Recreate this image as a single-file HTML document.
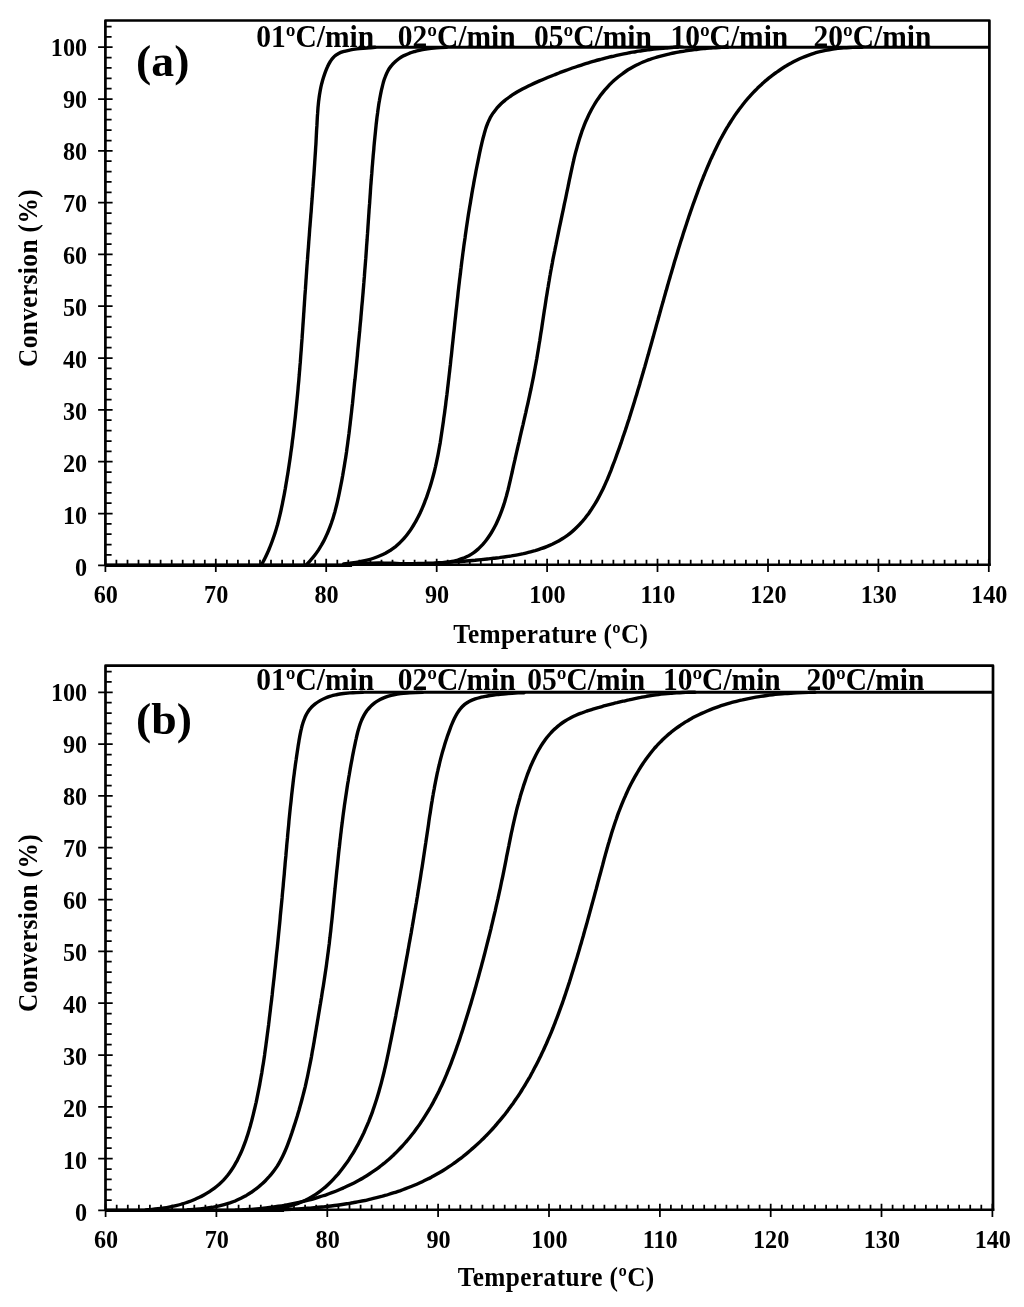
<!DOCTYPE html>
<html lang="en"><head><meta charset="utf-8"><title>Conversion vs Temperature</title>
<style>
html,body{margin:0;padding:0;background:#fff;}
body{width:1024px;height:1307px;overflow:hidden;}
svg{display:block;}
text{font-family:"Liberation Serif","Times New Roman",Times,serif;font-weight:bold;fill:#000;}
.tk{font-size:24.2px;}
.pl{font-size:45.8px;}
.lg{font-size:29.5px;}
.ax{font-size:25.3px;letter-spacing:0.3px;}
.ax2{font-size:25.3px;letter-spacing:0.42px;}
</style></head><body>
<svg width="1024" height="1307" viewBox="0 0 1024 1307">
<rect width="1024" height="1307" fill="#fff"/>
<g id="chart-a">
<path d="M261.9 564.1C262.3 563.2 263.8 560.5 264.7 558.7C265.6 556.9 266.5 555.0 267.3 553.2C268.2 551.4 269.0 549.5 269.7 547.6C270.5 545.8 271.2 543.9 271.9 542.0C272.6 540.1 273.3 538.2 273.9 536.3C274.6 534.4 275.2 532.5 275.8 530.5C276.4 528.6 276.9 526.7 277.5 524.7C278.0 522.8 278.5 520.8 279.0 518.9C279.5 516.9 280.0 514.9 280.4 513.0C280.9 511.0 281.3 509.0 281.7 507.0C282.2 505.0 282.6 503.1 282.9 501.1C283.3 499.1 283.7 497.1 284.1 495.1C284.5 493.1 284.8 491.1 285.2 489.1C285.5 487.1 285.9 485.1 286.2 483.1C286.6 481.1 286.9 479.1 287.2 477.1C287.6 475.1 287.9 473.1 288.2 471.1C288.5 469.1 288.8 467.1 289.1 465.1C289.4 463.1 289.7 461.1 290.0 459.1C290.3 457.1 290.6 455.1 290.8 453.1C291.1 451.1 291.4 449.1 291.7 447.1C291.9 445.1 292.2 443.1 292.4 441.0C292.7 439.0 293.0 437.0 293.2 435.0C293.4 433.0 293.7 431.0 293.9 429.0C294.2 427.0 294.4 425.0 294.6 422.9C294.8 420.9 295.1 418.9 295.3 416.9C295.5 414.9 295.7 412.9 295.9 410.9C296.1 408.8 296.3 406.8 296.5 404.8C296.7 402.8 296.9 400.8 297.1 398.8C297.3 396.7 297.5 394.7 297.7 392.7C297.9 390.7 298.1 388.7 298.2 386.6C298.4 384.6 298.6 382.6 298.8 380.6C298.9 378.6 299.1 376.6 299.3 374.5C299.4 372.5 299.6 370.5 299.8 368.5C299.9 366.5 300.1 364.4 300.3 362.4C300.4 360.4 300.6 358.4 300.7 356.4C300.9 354.3 301.0 352.3 301.2 350.3C301.3 348.3 301.5 346.2 301.6 344.2C301.8 342.2 301.9 340.2 302.1 338.2C302.2 336.1 302.3 334.1 302.5 332.1C302.6 330.1 302.8 328.1 302.9 326.0C303.0 324.0 303.2 322.0 303.3 320.0C303.5 318.0 303.6 315.9 303.7 313.9C303.9 311.9 304.0 309.9 304.1 307.8C304.3 305.8 304.4 303.8 304.5 301.8C304.7 299.8 304.8 297.7 304.9 295.7C305.1 293.7 305.2 291.7 305.4 289.7C305.5 287.7 305.6 285.6 305.8 283.6C305.9 281.6 306.0 279.6 306.2 277.6C306.3 275.5 306.5 273.5 306.6 271.5C306.7 269.5 306.9 267.5 307.0 265.5C307.2 263.4 307.3 261.4 307.5 259.4C307.6 257.4 307.8 255.4 307.9 253.4C308.1 251.4 308.2 249.3 308.4 247.3C308.5 245.3 308.7 243.3 308.8 241.3C309.0 239.3 309.1 237.3 309.3 235.3C309.4 233.2 309.6 231.2 309.7 229.2C309.9 227.2 310.1 225.2 310.2 223.2C310.4 221.2 310.5 219.1 310.7 217.1C310.8 215.1 311.0 213.1 311.2 211.1C311.3 209.1 311.5 207.1 311.6 205.0C311.8 203.0 311.9 201.0 312.1 199.0C312.2 197.0 312.4 195.0 312.5 193.0C312.7 190.9 312.8 188.9 313.0 186.9C313.1 184.9 313.3 182.9 313.4 180.8C313.6 178.8 313.7 176.8 313.9 174.8C314.0 172.7 314.2 170.7 314.3 168.7C314.4 166.7 314.6 164.6 314.7 162.6C314.8 160.6 315.0 158.6 315.1 156.5C315.2 154.5 315.4 152.5 315.5 150.4C315.6 148.4 315.7 146.4 315.9 144.3C316.0 142.3 316.1 140.2 316.2 138.2C316.3 136.2 316.4 134.1 316.5 132.1C316.6 130.0 316.7 128.0 316.9 125.9C317.0 123.9 317.1 121.8 317.2 119.8C317.3 117.8 317.4 115.7 317.6 113.7C317.7 111.6 317.9 109.6 318.0 107.6C318.2 105.6 318.4 103.5 318.6 101.5C318.9 99.5 319.1 97.5 319.4 95.5C319.7 93.5 320.1 91.6 320.4 89.6C320.8 87.6 321.2 85.7 321.7 83.7C322.2 81.8 322.7 79.9 323.3 78.0C323.9 76.1 324.5 74.2 325.2 72.3C325.9 70.5 326.6 68.6 327.5 66.8C328.3 65.0 329.2 63.2 330.3 61.5C331.3 59.8 332.4 58.2 333.8 56.9C335.2 55.5 336.8 54.4 338.6 53.4C340.3 52.5 342.4 51.9 344.4 51.3C346.4 50.7 348.6 50.3 350.6 49.9C352.7 49.5 354.8 49.2 356.9 48.9C359.0 48.6 361.0 48.4 363.1 48.2C365.1 48.0 367.1 47.8 369.1 47.7C371.1 47.5 374.1 47.4 375.1 47.3" fill="none" stroke="#000" stroke-width="3.4" stroke-linejoin="round" stroke-linecap="round"/>
<path d="M306.8 564.3C307.5 563.5 309.7 561.3 311.0 559.7C312.4 558.2 313.7 556.6 314.9 555.0C316.1 553.4 317.3 551.7 318.4 550.1C319.5 548.4 320.5 546.7 321.5 545.0C322.5 543.2 323.5 541.5 324.4 539.7C325.3 537.9 326.2 536.1 327.0 534.2C327.8 532.4 328.6 530.6 329.3 528.7C330.0 526.8 330.7 524.9 331.4 523.0C332.0 521.1 332.7 519.2 333.3 517.2C333.9 515.3 334.4 513.3 335.0 511.4C335.5 509.4 336.0 507.5 336.5 505.5C337.0 503.5 337.5 501.5 337.9 499.5C338.4 497.5 338.8 495.5 339.2 493.5C339.6 491.5 340.0 489.5 340.4 487.5C340.8 485.5 341.2 483.5 341.6 481.5C342.0 479.5 342.3 477.5 342.7 475.5C343.0 473.5 343.4 471.5 343.7 469.5C344.1 467.5 344.4 465.5 344.7 463.5C345.0 461.5 345.4 459.5 345.7 457.5C346.0 455.5 346.3 453.5 346.6 451.5C346.8 449.5 347.1 447.5 347.4 445.5C347.7 443.5 347.9 441.5 348.2 439.5C348.5 437.5 348.7 435.5 349.0 433.5C349.2 431.5 349.5 429.5 349.7 427.5C350.0 425.5 350.2 423.5 350.4 421.5C350.7 419.5 350.9 417.5 351.1 415.5C351.4 413.5 351.6 411.5 351.8 409.4C352.0 407.4 352.2 405.4 352.5 403.4C352.7 401.4 352.9 399.4 353.1 397.4C353.3 395.4 353.5 393.4 353.7 391.4C353.9 389.4 354.1 387.4 354.3 385.3C354.5 383.3 354.7 381.3 355.0 379.3C355.2 377.3 355.4 375.3 355.6 373.3C355.8 371.3 356.0 369.2 356.2 367.2C356.4 365.2 356.6 363.2 356.8 361.2C357.0 359.2 357.2 357.1 357.4 355.1C357.5 353.1 357.7 351.1 357.9 349.1C358.1 347.1 358.3 345.0 358.5 343.0C358.7 341.0 358.9 339.0 359.1 337.0C359.3 335.0 359.5 332.9 359.7 330.9C359.8 328.9 360.0 326.9 360.2 324.9C360.4 322.8 360.6 320.8 360.8 318.8C360.9 316.8 361.1 314.8 361.3 312.7C361.5 310.7 361.7 308.7 361.8 306.7C362.0 304.7 362.2 302.6 362.4 300.6C362.5 298.6 362.7 296.6 362.9 294.5C363.1 292.5 363.2 290.5 363.4 288.5C363.6 286.5 363.7 284.4 363.9 282.4C364.0 280.4 364.2 278.4 364.4 276.4C364.5 274.3 364.7 272.3 364.8 270.3C365.0 268.3 365.2 266.3 365.3 264.2C365.5 262.2 365.6 260.2 365.8 258.2C365.9 256.2 366.1 254.1 366.2 252.1C366.4 250.1 366.5 248.1 366.6 246.1C366.8 244.0 366.9 242.0 367.1 240.0C367.2 238.0 367.3 236.0 367.5 233.9C367.6 231.9 367.8 229.9 367.9 227.9C368.0 225.9 368.2 223.9 368.3 221.8C368.4 219.8 368.6 217.8 368.7 215.8C368.9 213.8 369.0 211.8 369.1 209.7C369.3 207.7 369.4 205.7 369.6 203.7C369.7 201.7 369.8 199.7 370.0 197.6C370.1 195.6 370.3 193.6 370.4 191.6C370.5 189.6 370.7 187.6 370.8 185.5C371.0 183.5 371.1 181.5 371.3 179.5C371.4 177.5 371.6 175.5 371.8 173.4C371.9 171.4 372.1 169.4 372.2 167.4C372.4 165.4 372.6 163.4 372.7 161.4C372.9 159.3 373.1 157.3 373.2 155.3C373.4 153.3 373.6 151.3 373.8 149.3C373.9 147.2 374.1 145.2 374.3 143.2C374.5 141.2 374.7 139.2 374.9 137.2C375.1 135.2 375.3 133.1 375.5 131.1C375.7 129.1 375.9 127.1 376.1 125.1C376.3 123.1 376.6 121.0 376.8 119.0C377.0 117.0 377.3 115.0 377.6 113.0C377.8 111.0 378.1 108.9 378.4 106.9C378.7 104.9 379.0 102.9 379.4 100.8C379.7 98.8 380.1 96.8 380.5 94.7C380.9 92.7 381.3 90.6 381.8 88.6C382.3 86.6 382.8 84.5 383.3 82.6C383.9 80.6 384.5 78.6 385.3 76.7C386.0 74.9 386.8 73.0 387.7 71.3C388.6 69.6 389.6 67.9 390.8 66.4C391.9 64.9 393.2 63.5 394.6 62.2C395.9 60.9 397.4 59.7 399.0 58.6C400.6 57.5 402.3 56.5 404.0 55.6C405.8 54.8 407.6 54.0 409.5 53.2C411.4 52.5 413.4 51.9 415.3 51.3C417.3 50.7 419.4 50.3 421.4 49.8C423.5 49.4 425.5 49.1 427.6 48.8C429.7 48.5 431.8 48.2 433.9 48.0C436.0 47.8 438.0 47.7 440.1 47.6C442.2 47.5 445.2 47.4 446.3 47.4" fill="none" stroke="#000" stroke-width="3.4" stroke-linejoin="round" stroke-linecap="round"/>
<path d="M343.6 563.9C344.6 563.8 347.7 563.5 349.8 563.3C351.8 563.0 353.9 562.7 356.0 562.4C358.1 562.1 360.1 561.7 362.2 561.2C364.2 560.8 366.2 560.3 368.2 559.8C370.2 559.3 372.2 558.7 374.2 558.0C376.1 557.3 378.0 556.6 379.9 555.8C381.8 555.0 383.6 554.2 385.4 553.3C387.1 552.3 388.8 551.3 390.5 550.3C392.2 549.2 393.7 548.0 395.3 546.8C396.8 545.6 398.3 544.2 399.7 542.9C401.1 541.5 402.5 540.1 403.8 538.6C405.1 537.1 406.4 535.6 407.6 534.0C408.8 532.4 410.0 530.8 411.1 529.1C412.2 527.4 413.3 525.7 414.3 523.9C415.4 522.2 416.4 520.4 417.3 518.5C418.3 516.7 419.2 514.9 420.1 513.0C420.9 511.1 421.8 509.3 422.6 507.4C423.4 505.5 424.2 503.5 424.9 501.6C425.6 499.7 426.4 497.8 427.0 495.9C427.7 493.9 428.4 492.0 429.0 490.1C429.6 488.1 430.3 486.2 430.8 484.3C431.4 482.3 432.0 480.4 432.5 478.4C433.1 476.4 433.6 474.5 434.1 472.5C434.6 470.6 435.0 468.6 435.5 466.6C435.9 464.7 436.4 462.7 436.8 460.7C437.2 458.7 437.6 456.7 438.0 454.8C438.4 452.8 438.8 450.8 439.1 448.8C439.5 446.8 439.8 444.8 440.2 442.8C440.5 440.8 440.8 438.8 441.1 436.8C441.4 434.8 441.7 432.8 442.0 430.8C442.3 428.8 442.6 426.8 442.9 424.8C443.2 422.8 443.5 420.8 443.7 418.8C444.0 416.8 444.3 414.8 444.6 412.8C444.8 410.8 445.1 408.8 445.4 406.8C445.6 404.8 445.9 402.8 446.1 400.7C446.4 398.7 446.6 396.7 446.9 394.7C447.1 392.7 447.4 390.7 447.6 388.7C447.8 386.6 448.1 384.6 448.3 382.6C448.5 380.6 448.8 378.6 449.0 376.6C449.2 374.5 449.5 372.5 449.7 370.5C449.9 368.5 450.1 366.5 450.4 364.4C450.6 362.4 450.8 360.4 451.0 358.4C451.3 356.4 451.5 354.3 451.7 352.3C451.9 350.3 452.1 348.3 452.3 346.3C452.6 344.2 452.8 342.2 453.0 340.2C453.2 338.2 453.4 336.2 453.6 334.1C453.9 332.1 454.1 330.1 454.3 328.1C454.5 326.1 454.7 324.0 454.9 322.0C455.1 320.0 455.4 318.0 455.6 315.9C455.8 313.9 456.0 311.9 456.2 309.9C456.5 307.9 456.7 305.8 456.9 303.8C457.1 301.8 457.3 299.8 457.6 297.8C457.8 295.7 458.0 293.7 458.2 291.7C458.5 289.7 458.7 287.7 458.9 285.7C459.2 283.6 459.4 281.6 459.6 279.6C459.9 277.6 460.1 275.6 460.4 273.6C460.6 271.5 460.8 269.5 461.1 267.5C461.3 265.5 461.6 263.5 461.8 261.5C462.1 259.5 462.4 257.5 462.6 255.4C462.9 253.4 463.1 251.4 463.4 249.4C463.7 247.4 463.9 245.4 464.2 243.4C464.5 241.4 464.8 239.4 465.1 237.4C465.3 235.4 465.6 233.4 465.9 231.4C466.2 229.4 466.5 227.3 466.8 225.3C467.1 223.3 467.4 221.3 467.7 219.3C468.0 217.3 468.3 215.3 468.6 213.3C469.0 211.3 469.3 209.3 469.6 207.3C469.9 205.4 470.3 203.4 470.6 201.4C470.9 199.4 471.3 197.4 471.6 195.4C471.9 193.4 472.3 191.4 472.6 189.4C473.0 187.4 473.4 185.4 473.7 183.4C474.1 181.4 474.4 179.4 474.8 177.5C475.2 175.5 475.6 173.5 475.9 171.5C476.3 169.5 476.7 167.5 477.1 165.5C477.5 163.5 477.9 161.6 478.3 159.6C478.7 157.6 479.1 155.6 479.5 153.6C479.9 151.6 480.4 149.6 480.8 147.6C481.3 145.6 481.7 143.6 482.2 141.6C482.7 139.6 483.2 137.6 483.8 135.6C484.3 133.5 484.9 131.5 485.5 129.4C486.1 127.4 486.8 125.4 487.6 123.5C488.3 121.6 489.2 119.7 490.1 117.9C491.1 116.2 492.1 114.5 493.2 112.9C494.4 111.3 495.6 109.7 496.8 108.2C498.1 106.8 499.4 105.4 500.8 104.0C502.2 102.6 503.7 101.4 505.2 100.1C506.8 98.9 508.3 97.7 510.0 96.6C511.6 95.4 513.3 94.3 515.0 93.3C516.7 92.2 518.4 91.2 520.2 90.2C522.0 89.2 523.8 88.3 525.6 87.4C527.5 86.5 529.3 85.6 531.2 84.7C533.1 83.8 534.9 83.0 536.8 82.1C538.7 81.3 540.6 80.5 542.5 79.7C544.4 78.9 546.3 78.1 548.2 77.3C550.1 76.5 552.0 75.7 553.9 75.0C555.8 74.2 557.7 73.5 559.6 72.7C561.5 72.0 563.4 71.3 565.3 70.6C567.3 69.9 569.2 69.2 571.1 68.5C573.0 67.8 575.0 67.2 576.9 66.5C578.8 65.9 580.8 65.2 582.7 64.6C584.6 64.0 586.6 63.4 588.5 62.8C590.4 62.2 592.4 61.7 594.3 61.1C596.3 60.5 598.2 60.0 600.2 59.5C602.1 58.9 604.1 58.4 606.1 57.9C608.0 57.4 610.0 57.0 611.9 56.5C613.9 56.0 615.9 55.6 617.9 55.1C619.8 54.7 621.8 54.3 623.8 53.9C625.8 53.5 627.7 53.1 629.7 52.7C631.7 52.4 633.7 52.0 635.7 51.7C637.7 51.4 639.7 51.0 641.7 50.7C643.7 50.4 645.7 50.2 647.7 49.9C649.7 49.6 651.7 49.4 653.7 49.1C655.7 48.9 657.7 48.7 659.7 48.5C661.7 48.3 663.7 48.1 665.8 48.0C667.8 47.8 669.8 47.7 671.8 47.5C673.9 47.4 676.9 47.3 677.9 47.2" fill="none" stroke="#000" stroke-width="3.4" stroke-linejoin="round" stroke-linecap="round"/>
<path d="M348.0 564.6C349.0 564.5 352.0 564.3 354.1 564.2C356.1 564.0 358.1 563.9 360.1 563.7C362.1 563.6 364.1 563.5 366.2 563.4C368.2 563.3 370.2 563.2 372.2 563.1C374.2 563.1 376.2 563.1 378.3 563.0C380.3 563.0 382.3 563.1 384.3 563.1C386.4 563.1 388.4 563.2 390.4 563.2C392.5 563.3 394.5 563.3 396.5 563.4C398.6 563.5 400.6 563.6 402.6 563.6C404.7 563.7 406.7 563.8 408.8 563.8C410.8 563.9 412.9 563.9 414.9 564.0C416.9 564.0 419.0 564.0 421.0 564.0C423.1 564.0 425.1 564.0 427.2 563.9C429.2 563.9 431.3 563.8 433.4 563.7C435.4 563.6 437.5 563.4 439.5 563.2C441.6 563.0 443.6 562.8 445.7 562.5C447.7 562.2 449.8 561.9 451.8 561.5C453.8 561.1 455.7 560.6 457.7 560.1C459.6 559.5 461.5 558.9 463.4 558.2C465.2 557.4 467.0 556.6 468.8 555.7C470.5 554.8 472.2 553.7 473.8 552.6C475.4 551.5 476.9 550.2 478.4 548.9C479.8 547.5 481.2 546.1 482.6 544.6C483.9 543.1 485.2 541.6 486.4 540.0C487.6 538.4 488.8 536.7 489.9 535.0C491.0 533.3 492.0 531.6 493.0 529.8C494.0 528.1 495.0 526.3 495.9 524.5C496.8 522.7 497.6 520.8 498.4 519.0C499.2 517.2 500.0 515.3 500.7 513.4C501.4 511.5 502.1 509.6 502.8 507.7C503.4 505.7 504.1 503.8 504.7 501.9C505.3 499.9 505.8 497.9 506.4 496.0C506.9 494.0 507.4 492.0 508.0 490.0C508.5 488.0 509.0 486.0 509.4 484.0C509.9 482.0 510.4 480.0 510.8 478.0C511.3 476.0 511.7 474.0 512.2 472.0C512.6 470.0 513.1 467.9 513.5 465.9C514.0 463.9 514.4 461.9 514.9 459.9C515.3 457.9 515.8 456.0 516.2 454.0C516.7 452.0 517.1 450.0 517.6 448.0C518.0 446.0 518.5 444.1 519.0 442.1C519.4 440.1 519.9 438.1 520.3 436.2C520.8 434.2 521.2 432.2 521.7 430.2C522.2 428.3 522.6 426.3 523.1 424.3C523.5 422.4 524.0 420.4 524.4 418.5C524.9 416.5 525.3 414.5 525.8 412.6C526.2 410.6 526.7 408.6 527.1 406.7C527.6 404.7 528.0 402.7 528.4 400.8C528.9 398.8 529.3 396.8 529.7 394.9C530.1 392.9 530.5 390.9 531.0 389.0C531.4 387.0 531.8 385.0 532.2 383.0C532.6 381.1 533.0 379.1 533.4 377.1C533.8 375.1 534.1 373.1 534.5 371.1C534.9 369.1 535.3 367.1 535.6 365.1C536.0 363.1 536.3 361.1 536.7 359.1C537.0 357.1 537.4 355.1 537.7 353.1C538.0 351.1 538.4 349.1 538.7 347.1C539.0 345.0 539.3 343.0 539.7 341.0C540.0 339.0 540.3 337.0 540.6 334.9C540.9 332.9 541.3 330.9 541.6 328.9C541.9 326.9 542.2 324.8 542.5 322.8C542.8 320.8 543.1 318.8 543.4 316.7C543.7 314.7 544.0 312.7 544.3 310.7C544.7 308.7 545.0 306.6 545.3 304.6C545.6 302.6 545.9 300.6 546.2 298.6C546.5 296.6 546.9 294.5 547.2 292.5C547.5 290.5 547.8 288.5 548.2 286.5C548.5 284.5 548.8 282.5 549.2 280.5C549.5 278.5 549.8 276.5 550.2 274.5C550.5 272.5 550.9 270.5 551.3 268.5C551.6 266.6 552.0 264.6 552.4 262.6C552.7 260.6 553.1 258.6 553.5 256.7C553.9 254.7 554.3 252.7 554.7 250.8C555.1 248.8 555.5 246.8 555.9 244.9C556.3 242.9 556.7 240.9 557.1 239.0C557.5 237.0 557.9 235.0 558.3 233.1C558.7 231.1 559.1 229.1 559.5 227.1C559.9 225.2 560.4 223.2 560.8 221.2C561.2 219.3 561.6 217.3 562.0 215.3C562.4 213.3 562.9 211.4 563.3 209.4C563.7 207.4 564.1 205.4 564.5 203.4C565.0 201.4 565.4 199.5 565.8 197.5C566.2 195.5 566.6 193.5 567.0 191.5C567.5 189.5 567.9 187.4 568.3 185.4C568.7 183.4 569.1 181.4 569.5 179.4C570.0 177.4 570.4 175.3 570.8 173.3C571.2 171.3 571.7 169.3 572.1 167.3C572.6 165.3 573.0 163.2 573.5 161.2C573.9 159.2 574.4 157.2 574.9 155.2C575.4 153.2 575.9 151.2 576.5 149.3C577.0 147.3 577.5 145.3 578.1 143.4C578.7 141.4 579.3 139.4 579.9 137.5C580.5 135.6 581.2 133.6 581.8 131.7C582.5 129.8 583.2 127.9 583.9 126.1C584.7 124.2 585.4 122.3 586.2 120.5C587.0 118.6 587.9 116.8 588.7 115.0C589.6 113.2 590.5 111.4 591.4 109.7C592.4 107.9 593.4 106.2 594.4 104.5C595.4 102.8 596.5 101.1 597.6 99.4C598.8 97.8 599.9 96.2 601.1 94.6C602.4 93.0 603.6 91.4 604.9 89.9C606.3 88.3 607.6 86.8 609.0 85.3C610.5 83.9 611.9 82.4 613.4 81.0C614.9 79.7 616.5 78.3 618.1 77.0C619.7 75.7 621.3 74.5 623.0 73.3C624.6 72.1 626.3 70.9 628.0 69.8C629.8 68.7 631.5 67.7 633.3 66.7C635.1 65.7 636.9 64.8 638.8 64.0C640.6 63.1 642.5 62.3 644.3 61.5C646.2 60.8 648.1 60.0 650.0 59.4C652.0 58.7 653.9 58.1 655.8 57.5C657.8 56.9 659.7 56.3 661.7 55.8C663.7 55.3 665.6 54.8 667.6 54.3C669.6 53.9 671.6 53.4 673.6 53.0C675.6 52.6 677.6 52.2 679.6 51.8C681.6 51.5 683.6 51.2 685.6 50.8C687.6 50.5 689.6 50.2 691.6 50.0C693.6 49.7 695.6 49.5 697.6 49.2C699.6 49.0 701.7 48.8 703.7 48.6C705.7 48.4 707.7 48.3 709.7 48.1C711.8 48.0 713.8 47.8 715.8 47.7C717.9 47.6 719.9 47.5 721.9 47.4C723.9 47.4 727.0 47.3 728.0 47.2" fill="none" stroke="#000" stroke-width="3.4" stroke-linejoin="round" stroke-linecap="round"/>
<path d="M347.9 564.2C348.9 564.2 352.0 564.1 354.0 564.1C356.0 564.0 358.0 564.0 360.1 563.9C362.1 563.9 364.1 563.9 366.1 563.9C368.2 563.8 370.2 563.8 372.2 563.8C374.2 563.8 376.3 563.8 378.3 563.8C380.3 563.8 382.4 563.8 384.4 563.8C386.4 563.8 388.4 563.8 390.5 563.8C392.5 563.8 394.5 563.8 396.5 563.7C398.6 563.7 400.6 563.7 402.6 563.7C404.6 563.7 406.7 563.7 408.7 563.7C410.7 563.6 412.7 563.6 414.8 563.6C416.8 563.6 418.8 563.5 420.8 563.5C422.8 563.4 424.9 563.4 426.9 563.3C428.9 563.2 430.9 563.2 432.9 563.1C434.9 563.0 436.9 562.9 439.0 562.8C441.0 562.7 443.0 562.6 445.0 562.5C447.0 562.4 449.0 562.2 451.0 562.1C453.0 562.0 455.0 561.8 457.0 561.7C459.0 561.5 461.1 561.4 463.1 561.2C465.1 561.0 467.1 560.9 469.1 560.7C471.1 560.5 473.1 560.3 475.1 560.2C477.2 560.0 479.2 559.8 481.2 559.6C483.2 559.4 485.2 559.2 487.3 559.0C489.3 558.8 491.3 558.5 493.3 558.3C495.3 558.1 497.4 557.8 499.4 557.6C501.4 557.3 503.4 557.1 505.5 556.8C507.5 556.5 509.5 556.2 511.5 555.9C513.5 555.5 515.5 555.2 517.5 554.8C519.5 554.4 521.5 554.0 523.5 553.6C525.4 553.1 527.4 552.7 529.4 552.2C531.3 551.7 533.3 551.1 535.2 550.6C537.2 550.0 539.1 549.4 541.0 548.7C542.9 548.1 544.8 547.4 546.7 546.6C548.6 545.9 550.4 545.1 552.2 544.3C554.0 543.4 555.8 542.5 557.6 541.6C559.3 540.6 561.1 539.6 562.7 538.5C564.4 537.5 566.1 536.3 567.7 535.2C569.3 534.0 570.9 532.7 572.4 531.4C573.9 530.1 575.4 528.7 576.8 527.3C578.3 525.9 579.7 524.4 581.0 522.9C582.4 521.4 583.7 519.8 585.0 518.2C586.2 516.6 587.5 515.0 588.7 513.4C589.9 511.7 591.0 510.0 592.1 508.3C593.3 506.6 594.3 504.9 595.4 503.2C596.4 501.4 597.4 499.7 598.4 497.9C599.4 496.1 600.3 494.3 601.2 492.5C602.1 490.7 603.0 488.9 603.9 487.1C604.7 485.2 605.5 483.4 606.3 481.6C607.2 479.7 607.9 477.8 608.7 476.0C609.5 474.1 610.2 472.2 611.0 470.3C611.7 468.5 612.4 466.6 613.1 464.7C613.9 462.8 614.6 460.9 615.3 459.0C616.0 457.1 616.7 455.2 617.3 453.3C618.0 451.4 618.7 449.5 619.4 447.6C620.1 445.6 620.7 443.7 621.4 441.8C622.0 439.9 622.7 438.0 623.3 436.1C624.0 434.2 624.6 432.2 625.3 430.3C625.9 428.4 626.6 426.5 627.2 424.5C627.8 422.6 628.4 420.7 629.1 418.8C629.7 416.8 630.3 414.9 630.9 413.0C631.5 411.0 632.1 409.1 632.7 407.2C633.3 405.2 633.9 403.3 634.5 401.4C635.1 399.4 635.7 397.5 636.3 395.6C636.9 393.6 637.5 391.7 638.0 389.7C638.6 387.8 639.2 385.9 639.8 383.9C640.3 382.0 640.9 380.0 641.5 378.1C642.0 376.1 642.6 374.2 643.2 372.3C643.7 370.3 644.3 368.4 644.9 366.4C645.4 364.5 646.0 362.5 646.5 360.6C647.1 358.6 647.6 356.7 648.2 354.8C648.7 352.8 649.3 350.9 649.8 348.9C650.4 347.0 650.9 345.0 651.5 343.1C652.0 341.1 652.5 339.2 653.1 337.3C653.6 335.3 654.2 333.4 654.7 331.4C655.3 329.5 655.8 327.5 656.3 325.6C656.9 323.6 657.4 321.7 658.0 319.7C658.5 317.8 659.0 315.9 659.6 313.9C660.1 312.0 660.7 310.0 661.2 308.1C661.8 306.1 662.3 304.2 662.9 302.3C663.4 300.3 664.0 298.4 664.5 296.4C665.1 294.5 665.6 292.6 666.2 290.6C666.7 288.7 667.3 286.7 667.8 284.8C668.4 282.8 668.9 280.9 669.5 279.0C670.1 277.0 670.6 275.1 671.2 273.2C671.8 271.2 672.3 269.3 672.9 267.4C673.5 265.4 674.0 263.5 674.6 261.5C675.2 259.6 675.8 257.7 676.4 255.7C677.0 253.8 677.6 251.9 678.1 250.0C678.7 248.0 679.3 246.1 679.9 244.2C680.5 242.2 681.1 240.3 681.8 238.4C682.4 236.5 683.0 234.5 683.6 232.6C684.2 230.7 684.9 228.8 685.5 226.8C686.1 224.9 686.8 223.0 687.4 221.1C688.0 219.1 688.7 217.2 689.3 215.3C690.0 213.4 690.7 211.5 691.3 209.6C692.0 207.6 692.7 205.7 693.3 203.8C694.0 201.9 694.7 200.0 695.4 198.1C696.1 196.2 696.8 194.3 697.5 192.4C698.2 190.4 698.9 188.5 699.6 186.6C700.4 184.7 701.1 182.8 701.8 180.9C702.6 179.0 703.3 177.1 704.1 175.3C704.8 173.4 705.6 171.5 706.4 169.6C707.2 167.7 708.0 165.8 708.8 164.0C709.6 162.1 710.4 160.2 711.2 158.4C712.1 156.5 712.9 154.7 713.8 152.9C714.6 151.0 715.5 149.2 716.4 147.4C717.3 145.5 718.2 143.7 719.1 141.9C720.0 140.1 721.0 138.4 722.0 136.6C722.9 134.8 723.9 133.0 724.9 131.3C725.9 129.6 726.9 127.8 728.0 126.1C729.0 124.4 730.1 122.7 731.2 121.0C732.2 119.3 733.4 117.6 734.5 115.9C735.6 114.3 736.8 112.6 738.0 111.0C739.1 109.4 740.3 107.8 741.6 106.2C742.8 104.6 744.1 103.0 745.3 101.5C746.6 99.9 747.9 98.4 749.3 96.9C750.6 95.4 752.0 93.9 753.4 92.4C754.8 91.0 756.2 89.5 757.6 88.1C759.1 86.7 760.6 85.3 762.1 83.9C763.6 82.6 765.1 81.2 766.7 79.9C768.2 78.6 769.8 77.3 771.4 76.1C773.0 74.9 774.6 73.6 776.3 72.5C777.9 71.3 779.6 70.1 781.3 69.0C783.0 67.9 784.7 66.8 786.4 65.8C788.1 64.7 789.9 63.7 791.7 62.8C793.5 61.8 795.3 60.9 797.1 60.0C798.9 59.1 800.7 58.3 802.6 57.5C804.4 56.7 806.3 56.0 808.2 55.3C810.1 54.6 812.0 53.9 813.9 53.3C815.8 52.7 817.8 52.2 819.7 51.7C821.7 51.1 823.6 50.7 825.6 50.3C827.6 49.9 829.6 49.5 831.6 49.2C833.6 48.9 835.6 48.7 837.6 48.4C839.7 48.2 841.7 48.0 843.7 47.9C845.8 47.7 847.8 47.6 849.9 47.5C851.9 47.4 853.9 47.4 856.0 47.3C858.0 47.3 861.1 47.2 862.1 47.2" fill="none" stroke="#000" stroke-width="3.4" stroke-linejoin="round" stroke-linecap="round"/>
<line x1="373.0" y1="47.2" x2="989.4" y2="47.2" stroke="#000" stroke-width="3.1"/>
<line x1="105.4" y1="565.3" x2="352.0" y2="565.3" stroke="#000" stroke-width="3.3"/>
<line x1="105.4" y1="564.7" x2="990.7" y2="564.7" stroke="#000" stroke-width="2.6"/>
<path d="M105.4 565.7 V20.5 H989.4 V565.7" fill="none" stroke="#000" stroke-width="2.7" stroke-linejoin="round"/>
<path d="M98.1 565.3 H112.6M105.4 554.9 H111.6M105.4 544.6 H111.6M105.4 534.2 H111.6M105.4 523.9 H111.6M98.1 513.5 H112.6M105.4 503.1 H111.6M105.4 492.8 H111.6M105.4 482.4 H111.6M105.4 472.0 H111.6M98.1 461.7 H112.6M105.4 451.3 H111.6M105.4 441.0 H111.6M105.4 430.6 H111.6M105.4 420.2 H111.6M98.1 409.9 H112.6M105.4 399.5 H111.6M105.4 389.1 H111.6M105.4 378.8 H111.6M105.4 368.4 H111.6M98.1 358.1 H112.6M105.4 347.7 H111.6M105.4 337.3 H111.6M105.4 327.0 H111.6M105.4 316.6 H111.6M98.1 306.2 H112.6M105.4 295.9 H111.6M105.4 285.5 H111.6M105.4 275.2 H111.6M105.4 264.8 H111.6M98.1 254.4 H112.6M105.4 244.1 H111.6M105.4 233.7 H111.6M105.4 223.4 H111.6M105.4 213.0 H111.6M98.1 202.6 H112.6M105.4 192.3 H111.6M105.4 181.9 H111.6M105.4 171.5 H111.6M105.4 161.2 H111.6M98.1 150.8 H112.6M105.4 140.5 H111.6M105.4 130.1 H111.6M105.4 119.7 H111.6M105.4 109.4 H111.6M98.1 99.0 H112.6M105.4 88.6 H111.6M105.4 78.3 H111.6M105.4 67.9 H111.6M105.4 57.6 H111.6M98.1 47.2 H112.6M105.4 36.8 H111.6M105.4 26.5 H111.6M105.4 558.7 V571.9M116.4 559.7 V564.7M127.5 559.7 V564.7M138.5 559.7 V564.7M149.6 559.7 V564.7M160.6 559.7 V564.7M171.7 559.7 V564.7M182.7 559.7 V564.7M193.7 559.7 V564.7M204.8 559.7 V564.7M215.8 558.7 V571.9M226.9 559.7 V564.7M237.9 559.7 V564.7M249.0 559.7 V564.7M260.0 559.7 V564.7M271.0 559.7 V564.7M282.1 559.7 V564.7M293.1 559.7 V564.7M304.2 559.7 V564.7M315.2 559.7 V564.7M326.2 558.7 V571.9M337.3 559.7 V564.7M348.3 559.7 V564.7M359.4 559.7 V564.7M370.4 559.7 V564.7M381.5 559.7 V564.7M392.5 559.7 V564.7M403.5 559.7 V564.7M414.6 559.7 V564.7M425.6 559.7 V564.7M436.7 558.7 V571.9M447.7 559.7 V564.7M458.8 559.7 V564.7M469.8 559.7 V564.7M480.8 559.7 V564.7M491.9 559.7 V564.7M502.9 559.7 V564.7M514.0 559.7 V564.7M525.0 559.7 V564.7M536.1 559.7 V564.7M547.1 558.7 V571.9M558.1 559.7 V564.7M569.2 559.7 V564.7M580.2 559.7 V564.7M591.3 559.7 V564.7M602.3 559.7 V564.7M613.4 559.7 V564.7M624.4 559.7 V564.7M635.4 559.7 V564.7M646.5 559.7 V564.7M657.5 558.7 V571.9M668.6 559.7 V564.7M679.6 559.7 V564.7M690.7 559.7 V564.7M701.7 559.7 V564.7M712.7 559.7 V564.7M723.8 559.7 V564.7M734.8 559.7 V564.7M745.9 559.7 V564.7M756.9 559.7 V564.7M768.0 558.7 V571.9M779.0 559.7 V564.7M790.0 559.7 V564.7M801.1 559.7 V564.7M812.1 559.7 V564.7M823.2 559.7 V564.7M834.2 559.7 V564.7M845.2 559.7 V564.7M856.3 559.7 V564.7M867.3 559.7 V564.7M878.4 558.7 V571.9M889.4 559.7 V564.7M900.5 559.7 V564.7M911.5 559.7 V564.7M922.5 559.7 V564.7M933.6 559.7 V564.7M944.6 559.7 V564.7M955.7 559.7 V564.7M966.7 559.7 V564.7M977.8 559.7 V564.7M988.8 558.7 V571.9" fill="none" stroke="#000" stroke-width="1.75"/>
<text transform="translate(87.1 575.7)" text-anchor="end" class="tk">0</text>
<text transform="translate(87.1 523.7)" text-anchor="end" class="tk">10</text>
<text transform="translate(87.1 471.8)" text-anchor="end" class="tk">20</text>
<text transform="translate(87.1 419.8)" text-anchor="end" class="tk">30</text>
<text transform="translate(87.1 367.8)" text-anchor="end" class="tk">40</text>
<text transform="translate(87.1 315.9)" text-anchor="end" class="tk">50</text>
<text transform="translate(87.1 263.9)" text-anchor="end" class="tk">60</text>
<text transform="translate(87.1 211.9)" text-anchor="end" class="tk">70</text>
<text transform="translate(87.1 159.9)" text-anchor="end" class="tk">80</text>
<text transform="translate(87.1 108.0)" text-anchor="end" class="tk">90</text>
<text transform="translate(87.1 56.0)" text-anchor="end" class="tk">100</text>
<text transform="translate(105.8 603.4)" text-anchor="middle" class="tk">60</text>
<text transform="translate(216.2 603.4)" text-anchor="middle" class="tk">70</text>
<text transform="translate(326.6 603.4)" text-anchor="middle" class="tk">80</text>
<text transform="translate(437.1 603.4)" text-anchor="middle" class="tk">90</text>
<text transform="translate(547.5 603.4)" text-anchor="middle" class="tk">100</text>
<text transform="translate(657.9 603.4)" text-anchor="middle" class="tk">110</text>
<text transform="translate(768.4 603.4)" text-anchor="middle" class="tk">120</text>
<text transform="translate(878.8 603.4)" text-anchor="middle" class="tk">130</text>
<text transform="translate(989.2 603.4)" text-anchor="middle" class="tk">140</text>
<text transform="translate(136.1 76.0) scale(1 0.980)" class="pl">(a)</text>
<text transform="translate(256.3 46.5) scale(1 1.040)" class="lg">01ºC/min</text>
<text transform="translate(397.7 46.5) scale(1 1.040)" class="lg">02ºC/min</text>
<text transform="translate(534.0 46.5) scale(1 1.040)" class="lg">05ºC/min</text>
<text transform="translate(670.4 46.5) scale(1 1.040)" class="lg">10ºC/min</text>
<text transform="translate(813.5 46.5) scale(1 1.040)" class="lg">20ºC/min</text>
<text transform="translate(550.7 643.0) scale(1 1.060)" text-anchor="middle" class="ax">Temperature (ºC)</text>
<text transform="translate(36.8 278.0) rotate(-90) scale(1 1.060)" text-anchor="middle" class="ax2">Conversion (%)</text>
</g>
<g id="chart-b">
<path d="M145.9 1209.9C146.9 1209.8 150.0 1209.6 152.0 1209.4C154.0 1209.3 156.1 1209.1 158.1 1208.8C160.1 1208.6 162.1 1208.3 164.1 1208.0C166.1 1207.7 168.1 1207.3 170.1 1206.9C172.1 1206.5 174.1 1206.1 176.0 1205.6C178.0 1205.1 180.0 1204.6 181.9 1204.0C183.9 1203.5 185.8 1202.8 187.7 1202.2C189.6 1201.5 191.5 1200.8 193.4 1200.0C195.2 1199.2 197.1 1198.4 198.9 1197.5C200.8 1196.7 202.6 1195.7 204.3 1194.7C206.1 1193.7 207.9 1192.7 209.5 1191.6C211.2 1190.5 212.9 1189.3 214.5 1188.1C216.1 1186.9 217.7 1185.6 219.2 1184.3C220.7 1182.9 222.1 1181.5 223.5 1180.1C224.9 1178.6 226.2 1177.1 227.5 1175.5C228.7 1173.9 229.9 1172.3 231.0 1170.7C232.2 1169.0 233.3 1167.3 234.3 1165.6C235.3 1163.8 236.3 1162.1 237.3 1160.3C238.2 1158.5 239.1 1156.7 239.9 1154.9C240.8 1153.0 241.6 1151.2 242.4 1149.3C243.2 1147.4 243.9 1145.6 244.6 1143.7C245.3 1141.8 246.0 1139.8 246.6 1137.9C247.3 1136.0 247.9 1134.0 248.5 1132.1C249.1 1130.1 249.6 1128.2 250.2 1126.2C250.7 1124.3 251.3 1122.3 251.8 1120.3C252.3 1118.3 252.8 1116.4 253.3 1114.4C253.8 1112.4 254.2 1110.5 254.7 1108.5C255.2 1106.5 255.6 1104.5 256.1 1102.6C256.5 1100.6 256.9 1098.6 257.3 1096.6C257.7 1094.7 258.1 1092.7 258.5 1090.7C258.9 1088.7 259.3 1086.7 259.7 1084.7C260.0 1082.8 260.4 1080.8 260.7 1078.8C261.1 1076.8 261.4 1074.8 261.8 1072.8C262.1 1070.8 262.4 1068.8 262.7 1066.9C263.1 1064.9 263.4 1062.9 263.7 1060.9C264.0 1058.9 264.3 1056.9 264.6 1054.9C264.8 1052.9 265.1 1050.9 265.4 1048.9C265.7 1046.9 266.0 1044.9 266.2 1042.9C266.5 1040.9 266.8 1038.9 267.0 1036.9C267.3 1034.9 267.5 1032.9 267.8 1030.9C268.1 1028.9 268.3 1026.9 268.6 1024.9C268.8 1022.9 269.1 1020.9 269.3 1018.9C269.5 1016.9 269.8 1014.9 270.0 1012.9C270.3 1010.8 270.5 1008.8 270.7 1006.8C271.0 1004.8 271.2 1002.8 271.5 1000.8C271.7 998.8 271.9 996.8 272.2 994.7C272.4 992.7 272.6 990.7 272.8 988.7C273.1 986.7 273.3 984.7 273.5 982.7C273.7 980.6 274.0 978.6 274.2 976.6C274.4 974.6 274.6 972.6 274.8 970.6C275.1 968.5 275.3 966.5 275.5 964.5C275.7 962.5 275.9 960.5 276.1 958.4C276.3 956.4 276.5 954.4 276.7 952.4C277.0 950.4 277.2 948.3 277.4 946.3C277.6 944.3 277.8 942.3 278.0 940.3C278.2 938.2 278.4 936.2 278.6 934.2C278.8 932.2 279.0 930.2 279.2 928.2C279.4 926.1 279.6 924.1 279.8 922.1C280.0 920.1 280.2 918.1 280.3 916.0C280.5 914.0 280.7 912.0 280.9 910.0C281.1 908.0 281.3 906.0 281.5 903.9C281.7 901.9 281.9 899.9 282.1 897.9C282.2 895.9 282.4 893.9 282.6 891.9C282.8 889.8 283.0 887.8 283.2 885.8C283.3 883.8 283.5 881.8 283.7 879.8C283.9 877.8 284.1 875.8 284.3 873.8C284.4 871.7 284.6 869.7 284.8 867.7C285.0 865.7 285.1 863.7 285.3 861.7C285.5 859.7 285.7 857.7 285.9 855.7C286.0 853.7 286.2 851.7 286.4 849.7C286.6 847.7 286.7 845.7 286.9 843.7C287.1 841.7 287.3 839.7 287.5 837.7C287.6 835.7 287.8 833.7 288.0 831.7C288.2 829.7 288.4 827.7 288.6 825.7C288.8 823.7 288.9 821.7 289.1 819.7C289.3 817.7 289.5 815.6 289.7 813.6C289.9 811.6 290.1 809.6 290.3 807.6C290.5 805.6 290.8 803.6 291.0 801.6C291.2 799.6 291.4 797.6 291.6 795.6C291.8 793.6 292.1 791.5 292.3 789.5C292.5 787.5 292.8 785.5 293.0 783.5C293.2 781.5 293.5 779.4 293.7 777.4C294.0 775.4 294.3 773.4 294.5 771.3C294.8 769.3 295.1 767.3 295.3 765.3C295.6 763.2 295.9 761.2 296.2 759.2C296.5 757.1 296.8 755.1 297.1 753.0C297.4 751.0 297.7 749.0 298.0 746.9C298.3 744.9 298.7 742.8 299.0 740.7C299.4 738.7 299.7 736.6 300.1 734.6C300.5 732.6 300.9 730.5 301.4 728.6C301.8 726.6 302.4 724.6 303.0 722.8C303.6 720.9 304.3 719.0 305.0 717.3C305.8 715.5 306.7 713.8 307.7 712.2C308.7 710.6 309.8 709.1 311.1 707.7C312.3 706.3 313.7 705.0 315.2 703.8C316.7 702.7 318.4 701.6 320.1 700.6C321.8 699.6 323.6 698.8 325.5 698.0C327.3 697.2 329.3 696.6 331.2 696.0C333.2 695.4 335.2 695.0 337.3 694.5C339.3 694.1 341.4 693.8 343.5 693.5C345.6 693.3 347.7 693.1 349.8 692.9C351.9 692.8 354.0 692.7 356.1 692.6C358.3 692.5 361.4 692.4 362.4 692.4" fill="none" stroke="#000" stroke-width="3.4" stroke-linejoin="round" stroke-linecap="round"/>
<path d="M187.9 1209.8C188.9 1209.7 191.9 1209.6 194.0 1209.4C196.0 1209.3 198.0 1209.1 200.1 1208.9C202.1 1208.7 204.1 1208.5 206.2 1208.2C208.2 1207.9 210.2 1207.6 212.2 1207.3C214.2 1206.9 216.2 1206.5 218.2 1206.1C220.2 1205.7 222.2 1205.2 224.1 1204.6C226.1 1204.1 228.0 1203.5 229.9 1202.9C231.8 1202.2 233.7 1201.5 235.6 1200.8C237.4 1200.0 239.2 1199.2 241.0 1198.3C242.9 1197.4 244.6 1196.4 246.4 1195.4C248.1 1194.4 249.8 1193.4 251.5 1192.2C253.2 1191.1 254.8 1189.9 256.4 1188.7C258.0 1187.5 259.5 1186.2 261.0 1184.8C262.6 1183.5 264.0 1182.1 265.4 1180.7C266.9 1179.2 268.2 1177.7 269.6 1176.2C270.9 1174.7 272.2 1173.1 273.4 1171.5C274.6 1169.9 275.8 1168.2 276.9 1166.6C278.0 1164.9 279.0 1163.1 280.0 1161.4C281.0 1159.6 281.9 1157.8 282.8 1156.0C283.7 1154.2 284.5 1152.3 285.3 1150.5C286.1 1148.6 286.9 1146.7 287.6 1144.8C288.3 1142.9 289.0 1141.0 289.7 1139.1C290.4 1137.2 291.0 1135.2 291.7 1133.3C292.3 1131.4 293.0 1129.5 293.6 1127.5C294.2 1125.6 294.9 1123.7 295.5 1121.8C296.1 1119.8 296.7 1117.9 297.3 1116.0C297.8 1114.1 298.4 1112.1 299.0 1110.2C299.5 1108.3 300.1 1106.3 300.6 1104.4C301.2 1102.4 301.7 1100.5 302.2 1098.5C302.7 1096.6 303.2 1094.6 303.7 1092.7C304.2 1090.7 304.7 1088.8 305.2 1086.8C305.6 1084.9 306.1 1082.9 306.5 1080.9C307.0 1078.9 307.4 1077.0 307.8 1075.0C308.2 1073.0 308.6 1071.0 309.0 1069.0C309.4 1067.1 309.8 1065.1 310.2 1063.1C310.6 1061.1 311.0 1059.1 311.4 1057.1C311.7 1055.1 312.1 1053.1 312.4 1051.1C312.8 1049.1 313.2 1047.1 313.5 1045.2C313.9 1043.2 314.2 1041.2 314.5 1039.2C314.9 1037.2 315.2 1035.2 315.5 1033.2C315.9 1031.2 316.2 1029.2 316.5 1027.2C316.9 1025.2 317.2 1023.2 317.5 1021.2C317.9 1019.2 318.2 1017.2 318.5 1015.2C318.8 1013.2 319.2 1011.2 319.5 1009.2C319.8 1007.2 320.1 1005.2 320.5 1003.3C320.8 1001.3 321.1 999.3 321.5 997.3C321.8 995.3 322.1 993.3 322.4 991.3C322.7 989.3 323.1 987.4 323.4 985.4C323.7 983.4 324.0 981.4 324.3 979.4C324.6 977.4 324.9 975.4 325.2 973.4C325.5 971.4 325.8 969.4 326.1 967.4C326.4 965.4 326.7 963.4 326.9 961.4C327.2 959.4 327.5 957.4 327.7 955.4C328.0 953.4 328.3 951.4 328.5 949.4C328.8 947.4 329.0 945.4 329.3 943.4C329.5 941.4 329.7 939.4 330.0 937.3C330.2 935.3 330.4 933.3 330.7 931.3C330.9 929.3 331.1 927.3 331.3 925.2C331.5 923.2 331.8 921.2 332.0 919.2C332.2 917.2 332.4 915.1 332.6 913.1C332.8 911.1 333.0 909.1 333.2 907.1C333.4 905.0 333.6 903.0 333.8 901.0C334.0 899.0 334.2 897.0 334.4 894.9C334.6 892.9 334.8 890.9 335.0 888.9C335.2 886.9 335.4 884.9 335.6 882.8C335.8 880.8 336.0 878.8 336.2 876.8C336.4 874.8 336.6 872.8 336.8 870.8C337.0 868.8 337.3 866.8 337.5 864.7C337.7 862.7 337.9 860.7 338.1 858.7C338.3 856.7 338.5 854.7 338.7 852.7C338.9 850.7 339.1 848.7 339.4 846.7C339.6 844.7 339.8 842.8 340.0 840.8C340.3 838.8 340.5 836.8 340.7 834.8C341.0 832.8 341.2 830.8 341.4 828.8C341.7 826.8 341.9 824.8 342.2 822.8C342.4 820.8 342.7 818.9 342.9 816.9C343.2 814.9 343.4 812.9 343.7 810.9C344.0 808.9 344.3 806.9 344.5 804.9C344.8 802.9 345.1 800.9 345.4 798.9C345.7 796.9 346.0 795.0 346.3 793.0C346.6 791.0 346.9 789.0 347.2 787.0C347.5 785.0 347.8 783.0 348.2 781.0C348.5 779.0 348.8 777.0 349.2 775.0C349.5 773.0 349.9 770.9 350.2 768.9C350.6 766.9 350.9 764.9 351.3 762.9C351.7 760.9 352.1 758.9 352.4 756.9C352.8 754.8 353.2 752.8 353.6 750.8C354.0 748.8 354.5 746.7 354.9 744.7C355.3 742.7 355.7 740.6 356.2 738.6C356.6 736.6 357.1 734.5 357.6 732.5C358.1 730.5 358.7 728.6 359.3 726.6C359.9 724.7 360.5 722.8 361.3 720.9C362.0 719.1 362.9 717.3 363.8 715.6C364.7 713.9 365.7 712.3 366.8 710.7C368.0 709.2 369.2 707.7 370.6 706.4C371.9 705.0 373.4 703.8 375.0 702.6C376.6 701.5 378.3 700.5 380.1 699.5C381.8 698.6 383.7 697.8 385.5 697.1C387.4 696.4 389.3 695.8 391.3 695.3C393.3 694.8 395.3 694.4 397.3 694.0C399.3 693.7 401.4 693.4 403.5 693.2C405.5 693.0 407.6 692.8 409.7 692.7C411.8 692.6 413.9 692.5 416.0 692.5C418.1 692.4 421.3 692.4 422.3 692.4" fill="none" stroke="#000" stroke-width="3.4" stroke-linejoin="round" stroke-linecap="round"/>
<path d="M257.9 1210.4C258.9 1210.3 262.0 1210.2 264.0 1210.1C266.1 1209.9 268.1 1209.7 270.2 1209.5C272.2 1209.3 274.2 1209.0 276.3 1208.7C278.3 1208.4 280.3 1208.1 282.3 1207.7C284.3 1207.3 286.3 1206.8 288.2 1206.3C290.2 1205.8 292.2 1205.3 294.1 1204.6C296.0 1204.0 297.9 1203.4 299.8 1202.6C301.6 1201.9 303.5 1201.1 305.3 1200.3C307.1 1199.4 308.9 1198.5 310.6 1197.5C312.3 1196.6 314.0 1195.5 315.7 1194.4C317.4 1193.3 319.0 1192.1 320.6 1190.9C322.2 1189.7 323.7 1188.4 325.3 1187.1C326.8 1185.8 328.3 1184.4 329.7 1183.0C331.2 1181.6 332.6 1180.1 334.0 1178.6C335.4 1177.2 336.7 1175.6 338.1 1174.1C339.4 1172.5 340.7 1170.9 341.9 1169.3C343.2 1167.7 344.4 1166.0 345.6 1164.3C346.8 1162.7 348.0 1161.0 349.1 1159.3C350.2 1157.6 351.3 1155.8 352.4 1154.1C353.5 1152.4 354.5 1150.6 355.5 1148.9C356.5 1147.1 357.5 1145.3 358.5 1143.6C359.4 1141.8 360.3 1140.0 361.2 1138.2C362.1 1136.4 363.0 1134.5 363.9 1132.7C364.7 1130.9 365.5 1129.1 366.3 1127.2C367.1 1125.4 367.9 1123.5 368.7 1121.6C369.4 1119.8 370.1 1117.9 370.9 1116.0C371.6 1114.1 372.3 1112.3 372.9 1110.4C373.6 1108.5 374.3 1106.6 374.9 1104.6C375.5 1102.7 376.1 1100.8 376.7 1098.9C377.3 1097.0 377.9 1095.0 378.5 1093.1C379.0 1091.1 379.6 1089.2 380.1 1087.3C380.7 1085.3 381.2 1083.3 381.7 1081.4C382.2 1079.4 382.7 1077.5 383.2 1075.5C383.7 1073.5 384.2 1071.6 384.6 1069.6C385.1 1067.6 385.6 1065.6 386.0 1063.6C386.4 1061.7 386.9 1059.7 387.3 1057.7C387.7 1055.7 388.2 1053.7 388.6 1051.7C389.0 1049.7 389.4 1047.7 389.8 1045.7C390.2 1043.7 390.6 1041.8 391.0 1039.8C391.4 1037.8 391.8 1035.8 392.2 1033.8C392.6 1031.8 393.0 1029.8 393.4 1027.8C393.8 1025.8 394.2 1023.8 394.6 1021.8C395.0 1019.8 395.4 1017.8 395.8 1015.8C396.1 1013.8 396.5 1011.9 396.9 1009.9C397.3 1007.9 397.7 1005.9 398.1 1003.9C398.5 1001.9 398.8 999.9 399.2 997.9C399.6 995.9 400.0 993.9 400.3 992.0C400.7 990.0 401.1 988.0 401.5 986.0C401.9 984.0 402.2 982.0 402.6 980.0C403.0 978.0 403.3 976.0 403.7 974.1C404.1 972.1 404.4 970.1 404.8 968.1C405.2 966.1 405.5 964.1 405.9 962.1C406.3 960.1 406.6 958.2 407.0 956.2C407.4 954.2 407.7 952.2 408.1 950.2C408.4 948.2 408.8 946.2 409.1 944.2C409.5 942.3 409.9 940.3 410.2 938.3C410.6 936.3 410.9 934.3 411.3 932.3C411.6 930.3 411.9 928.3 412.3 926.3C412.6 924.4 413.0 922.4 413.3 920.4C413.7 918.4 414.0 916.4 414.3 914.4C414.7 912.4 415.0 910.4 415.4 908.4C415.7 906.4 416.0 904.4 416.4 902.5C416.7 900.5 417.0 898.5 417.4 896.5C417.7 894.5 418.0 892.5 418.3 890.5C418.7 888.5 419.0 886.5 419.3 884.5C419.6 882.5 420.0 880.5 420.3 878.5C420.6 876.5 420.9 874.5 421.2 872.5C421.5 870.5 421.9 868.5 422.2 866.5C422.5 864.5 422.8 862.5 423.1 860.5C423.4 858.5 423.7 856.5 424.0 854.5C424.3 852.5 424.6 850.5 424.9 848.5C425.2 846.5 425.5 844.5 425.8 842.5C426.1 840.5 426.4 838.5 426.7 836.4C427.0 834.4 427.3 832.4 427.6 830.4C427.9 828.4 428.2 826.4 428.5 824.4C428.8 822.4 429.0 820.4 429.3 818.4C429.6 816.3 430.0 814.3 430.3 812.3C430.6 810.3 430.9 808.3 431.2 806.3C431.5 804.3 431.8 802.3 432.2 800.3C432.5 798.3 432.8 796.3 433.2 794.3C433.5 792.3 433.9 790.3 434.3 788.3C434.6 786.3 435.0 784.3 435.4 782.3C435.8 780.3 436.2 778.3 436.6 776.3C437.0 774.4 437.4 772.4 437.9 770.4C438.3 768.4 438.8 766.4 439.3 764.5C439.7 762.5 440.2 760.5 440.7 758.6C441.2 756.6 441.8 754.7 442.3 752.7C442.8 750.8 443.4 748.8 444.0 746.9C444.6 744.9 445.2 743.0 445.8 741.1C446.4 739.1 447.1 737.2 447.7 735.3C448.4 733.4 449.1 731.5 449.8 729.6C450.5 727.6 451.2 725.7 452.0 723.9C452.8 722.0 453.6 720.1 454.5 718.3C455.4 716.5 456.3 714.7 457.3 713.1C458.4 711.4 459.5 709.8 460.7 708.4C461.9 706.9 463.3 705.6 464.7 704.4C466.2 703.2 467.9 702.1 469.6 701.2C471.3 700.3 473.2 699.6 475.2 698.9C477.1 698.2 479.2 697.7 481.2 697.2C483.3 696.7 485.4 696.4 487.5 696.0C489.5 695.6 491.6 695.3 493.7 695.0C495.8 694.7 497.8 694.5 499.9 694.2C501.9 694.0 503.9 693.8 506.0 693.7C508.0 693.5 510.0 693.3 512.1 693.2C514.1 693.1 516.1 693.0 518.1 692.9C520.1 692.8 523.1 692.7 524.1 692.7" fill="none" stroke="#000" stroke-width="3.4" stroke-linejoin="round" stroke-linecap="round"/>
<path d="M235.7 1210.1C236.7 1210.0 239.7 1209.9 241.8 1209.9C243.8 1209.8 245.8 1209.7 247.8 1209.5C249.8 1209.4 251.9 1209.3 253.9 1209.1C255.9 1209.0 257.9 1208.8 260.0 1208.6C262.0 1208.4 264.0 1208.2 266.1 1207.9C268.1 1207.7 270.1 1207.5 272.2 1207.2C274.2 1206.9 276.2 1206.6 278.3 1206.3C280.3 1206.0 282.3 1205.7 284.4 1205.3C286.4 1205.0 288.4 1204.6 290.4 1204.2C292.4 1203.8 294.4 1203.4 296.5 1203.0C298.5 1202.6 300.5 1202.1 302.5 1201.6C304.5 1201.1 306.5 1200.6 308.4 1200.1C310.4 1199.6 312.4 1199.1 314.4 1198.5C316.3 1197.9 318.3 1197.3 320.2 1196.7C322.2 1196.1 324.1 1195.4 326.1 1194.8C328.0 1194.1 329.9 1193.4 331.8 1192.7C333.7 1192.0 335.6 1191.3 337.5 1190.5C339.4 1189.7 341.2 1188.9 343.1 1188.1C344.9 1187.3 346.8 1186.5 348.6 1185.6C350.4 1184.7 352.2 1183.8 354.0 1182.9C355.8 1182.0 357.6 1181.0 359.4 1180.0C361.1 1179.1 362.9 1178.0 364.6 1177.0C366.3 1176.0 368.0 1174.9 369.7 1173.8C371.4 1172.7 373.0 1171.6 374.7 1170.4C376.3 1169.3 378.0 1168.1 379.6 1166.9C381.2 1165.7 382.7 1164.4 384.3 1163.2C385.9 1161.9 387.4 1160.6 388.9 1159.3C390.4 1157.9 391.9 1156.6 393.4 1155.2C394.8 1153.8 396.3 1152.4 397.7 1150.9C399.1 1149.5 400.5 1148.0 401.9 1146.5C403.3 1145.0 404.6 1143.5 405.9 1142.0C407.3 1140.5 408.6 1138.9 409.9 1137.3C411.1 1135.7 412.4 1134.1 413.7 1132.5C414.9 1130.9 416.1 1129.2 417.3 1127.6C418.5 1125.9 419.7 1124.3 420.8 1122.6C422.0 1120.9 423.1 1119.2 424.2 1117.4C425.3 1115.7 426.4 1114.0 427.5 1112.2C428.5 1110.5 429.6 1108.7 430.6 1107.0C431.6 1105.2 432.6 1103.4 433.6 1101.6C434.5 1099.8 435.5 1098.0 436.4 1096.2C437.4 1094.4 438.3 1092.6 439.2 1090.7C440.0 1088.9 440.9 1087.1 441.8 1085.2C442.6 1083.4 443.5 1081.5 444.3 1079.7C445.1 1077.8 445.9 1076.0 446.7 1074.1C447.5 1072.2 448.2 1070.3 449.0 1068.5C449.7 1066.6 450.5 1064.7 451.2 1062.8C451.9 1060.9 452.6 1059.0 453.3 1057.1C454.0 1055.2 454.7 1053.3 455.4 1051.4C456.1 1049.5 456.8 1047.6 457.4 1045.6C458.1 1043.7 458.7 1041.8 459.4 1039.9C460.0 1038.0 460.7 1036.0 461.3 1034.1C461.9 1032.2 462.6 1030.3 463.2 1028.3C463.8 1026.4 464.4 1024.5 465.0 1022.5C465.6 1020.6 466.2 1018.7 466.8 1016.7C467.4 1014.8 468.0 1012.9 468.6 1010.9C469.2 1009.0 469.8 1007.0 470.4 1005.1C471.0 1003.2 471.5 1001.2 472.1 999.3C472.7 997.3 473.2 995.4 473.8 993.4C474.4 991.5 474.9 989.5 475.5 987.6C476.0 985.6 476.6 983.7 477.1 981.7C477.7 979.8 478.2 977.8 478.7 975.9C479.3 973.9 479.8 971.9 480.3 970.0C480.9 968.0 481.4 966.1 481.9 964.1C482.5 962.1 483.0 960.2 483.5 958.2C484.0 956.2 484.5 954.3 485.0 952.3C485.5 950.3 486.0 948.4 486.5 946.4C487.0 944.4 487.5 942.5 488.0 940.5C488.5 938.5 489.0 936.5 489.5 934.6C490.0 932.6 490.5 930.6 491.0 928.6C491.4 926.6 491.9 924.7 492.4 922.7C492.9 920.7 493.3 918.7 493.8 916.7C494.3 914.8 494.7 912.8 495.2 910.8C495.6 908.8 496.1 906.8 496.5 904.9C497.0 902.9 497.4 900.9 497.9 898.9C498.3 896.9 498.8 894.9 499.2 892.9C499.6 891.0 500.1 889.0 500.5 887.0C500.9 885.0 501.3 883.0 501.7 881.0C502.2 879.0 502.6 877.1 503.0 875.1C503.4 873.1 503.8 871.1 504.2 869.1C504.6 867.1 505.0 865.1 505.4 863.2C505.8 861.2 506.2 859.2 506.5 857.2C506.9 855.2 507.3 853.2 507.7 851.3C508.1 849.3 508.5 847.3 508.9 845.3C509.3 843.3 509.7 841.3 510.1 839.4C510.5 837.4 510.9 835.4 511.3 833.4C511.8 831.4 512.2 829.5 512.6 827.5C513.0 825.5 513.5 823.5 513.9 821.6C514.4 819.6 514.8 817.6 515.3 815.6C515.8 813.7 516.2 811.7 516.7 809.7C517.2 807.8 517.7 805.8 518.3 803.8C518.8 801.9 519.3 799.9 519.9 797.9C520.4 796.0 521.0 794.0 521.6 792.1C522.2 790.1 522.8 788.2 523.4 786.2C524.1 784.2 524.7 782.3 525.4 780.4C526.0 778.4 526.7 776.5 527.4 774.5C528.2 772.6 528.9 770.7 529.7 768.7C530.4 766.8 531.2 764.9 532.1 763.0C532.9 761.2 533.8 759.3 534.7 757.5C535.6 755.6 536.5 753.8 537.5 752.0C538.4 750.3 539.4 748.5 540.5 746.8C541.6 745.1 542.6 743.4 543.8 741.8C544.9 740.1 546.1 738.5 547.3 737.0C548.6 735.5 549.9 734.0 551.2 732.5C552.5 731.1 553.9 729.7 555.4 728.4C556.8 727.1 558.3 725.8 559.9 724.6C561.4 723.4 563.0 722.3 564.7 721.2C566.4 720.1 568.1 719.1 569.9 718.2C571.7 717.2 573.5 716.4 575.4 715.5C577.2 714.7 579.1 713.9 581.1 713.2C583.0 712.4 584.9 711.7 586.9 711.0C588.9 710.4 590.9 709.7 592.9 709.1C594.9 708.5 596.9 707.9 599.0 707.4C601.0 706.8 603.0 706.3 605.0 705.7C607.0 705.2 609.1 704.7 611.1 704.2C613.1 703.7 615.1 703.1 617.0 702.7C619.0 702.2 621.0 701.7 623.0 701.2C625.0 700.8 626.9 700.3 628.9 699.9C630.9 699.4 632.8 699.0 634.8 698.6C636.7 698.2 638.7 697.8 640.7 697.4C642.6 697.0 644.6 696.7 646.6 696.3C648.5 696.0 650.5 695.7 652.5 695.4C654.5 695.1 656.5 694.8 658.5 694.6C660.5 694.3 662.5 694.1 664.5 693.9C666.5 693.7 668.5 693.5 670.6 693.3C672.6 693.2 674.6 693.0 676.6 692.9C678.7 692.8 680.7 692.6 682.7 692.5C684.8 692.4 686.8 692.4 688.9 692.3C690.9 692.2 694.0 692.2 695.0 692.2" fill="none" stroke="#000" stroke-width="3.4" stroke-linejoin="round" stroke-linecap="round"/>
<path d="M279.8 1209.7C280.8 1209.7 283.8 1209.6 285.8 1209.5C287.9 1209.4 289.9 1209.3 291.9 1209.2C293.9 1209.1 295.9 1209.0 298.0 1208.9C300.0 1208.8 302.0 1208.7 304.1 1208.5C306.1 1208.4 308.1 1208.2 310.2 1208.1C312.2 1207.9 314.2 1207.7 316.3 1207.5C318.3 1207.4 320.3 1207.2 322.4 1207.0C324.4 1206.8 326.4 1206.5 328.5 1206.3C330.5 1206.1 332.5 1205.8 334.5 1205.5C336.6 1205.3 338.6 1205.0 340.6 1204.7C342.6 1204.4 344.7 1204.1 346.7 1203.8C348.7 1203.5 350.7 1203.1 352.7 1202.8C354.7 1202.4 356.7 1202.1 358.7 1201.7C360.7 1201.3 362.7 1200.9 364.7 1200.5C366.7 1200.0 368.7 1199.6 370.7 1199.1C372.7 1198.7 374.7 1198.2 376.6 1197.7C378.6 1197.2 380.6 1196.7 382.5 1196.2C384.5 1195.6 386.4 1195.1 388.3 1194.5C390.3 1193.9 392.2 1193.3 394.1 1192.7C396.1 1192.1 398.0 1191.4 399.9 1190.8C401.8 1190.1 403.7 1189.4 405.6 1188.7C407.5 1188.0 409.3 1187.3 411.2 1186.5C413.1 1185.8 414.9 1185.0 416.8 1184.2C418.6 1183.4 420.4 1182.6 422.3 1181.7C424.1 1180.9 425.9 1180.0 427.7 1179.1C429.5 1178.2 431.3 1177.2 433.0 1176.3C434.8 1175.3 436.6 1174.3 438.3 1173.3C440.0 1172.3 441.8 1171.3 443.5 1170.2C445.2 1169.2 446.9 1168.1 448.6 1166.9C450.3 1165.8 452.0 1164.7 453.6 1163.5C455.3 1162.4 456.9 1161.2 458.5 1159.9C460.2 1158.7 461.8 1157.5 463.4 1156.2C465.0 1155.0 466.5 1153.7 468.1 1152.4C469.7 1151.1 471.2 1149.7 472.7 1148.4C474.3 1147.1 475.8 1145.7 477.3 1144.3C478.8 1142.9 480.3 1141.5 481.7 1140.1C483.2 1138.7 484.6 1137.2 486.1 1135.7C487.5 1134.3 488.9 1132.8 490.3 1131.3C491.7 1129.8 493.1 1128.3 494.4 1126.8C495.8 1125.3 497.1 1123.7 498.4 1122.2C499.8 1120.6 501.1 1119.0 502.4 1117.4C503.6 1115.9 504.9 1114.3 506.1 1112.7C507.4 1111.1 508.6 1109.4 509.8 1107.8C511.0 1106.2 512.2 1104.5 513.4 1102.9C514.5 1101.2 515.7 1099.5 516.8 1097.9C518.0 1096.2 519.1 1094.5 520.2 1092.8C521.3 1091.1 522.3 1089.4 523.4 1087.7C524.5 1086.0 525.5 1084.2 526.5 1082.5C527.6 1080.8 528.6 1079.0 529.6 1077.3C530.6 1075.5 531.5 1073.7 532.5 1072.0C533.5 1070.2 534.4 1068.4 535.3 1066.6C536.3 1064.8 537.2 1063.0 538.1 1061.2C539.0 1059.4 539.9 1057.6 540.8 1055.8C541.6 1054.0 542.5 1052.1 543.4 1050.3C544.2 1048.5 545.0 1046.6 545.9 1044.8C546.7 1042.9 547.5 1041.1 548.3 1039.2C549.1 1037.4 549.9 1035.5 550.7 1033.6C551.5 1031.8 552.2 1029.9 553.0 1028.0C553.7 1026.1 554.5 1024.2 555.2 1022.3C555.9 1020.5 556.7 1018.6 557.4 1016.7C558.1 1014.8 558.8 1012.9 559.5 1010.9C560.2 1009.0 560.9 1007.1 561.6 1005.2C562.3 1003.3 562.9 1001.4 563.6 999.5C564.3 997.5 564.9 995.6 565.6 993.7C566.2 991.8 566.8 989.8 567.5 987.9C568.1 986.0 568.7 984.0 569.4 982.1C570.0 980.2 570.6 978.2 571.2 976.3C571.8 974.3 572.4 972.4 573.0 970.5C573.6 968.5 574.2 966.6 574.8 964.6C575.4 962.7 576.0 960.7 576.6 958.8C577.2 956.9 577.7 954.9 578.3 953.0C578.9 951.0 579.5 949.1 580.0 947.1C580.6 945.2 581.2 943.3 581.7 941.3C582.3 939.4 582.8 937.4 583.4 935.5C583.9 933.5 584.5 931.6 585.0 929.6C585.6 927.7 586.1 925.7 586.7 923.8C587.2 921.8 587.8 919.9 588.3 917.9C588.8 916.0 589.4 914.0 589.9 912.1C590.5 910.1 591.0 908.2 591.5 906.2C592.0 904.3 592.6 902.3 593.1 900.4C593.6 898.4 594.2 896.5 594.7 894.5C595.2 892.6 595.7 890.6 596.3 888.7C596.8 886.7 597.3 884.8 597.8 882.8C598.4 880.8 598.9 878.9 599.4 876.9C599.9 875.0 600.5 873.0 601.0 871.1C601.5 869.1 602.0 867.1 602.6 865.2C603.1 863.2 603.6 861.3 604.1 859.3C604.7 857.4 605.2 855.4 605.7 853.4C606.3 851.5 606.8 849.5 607.4 847.6C607.9 845.6 608.5 843.7 609.1 841.7C609.6 839.8 610.2 837.8 610.8 835.9C611.4 833.9 612.0 832.0 612.6 830.1C613.2 828.1 613.9 826.2 614.5 824.3C615.1 822.3 615.8 820.4 616.5 818.5C617.1 816.6 617.8 814.6 618.5 812.7C619.3 810.8 620.0 808.9 620.7 807.0C621.5 805.1 622.2 803.2 623.0 801.3C623.8 799.4 624.6 797.5 625.5 795.7C626.3 793.8 627.2 791.9 628.0 790.1C628.9 788.2 629.8 786.4 630.7 784.6C631.7 782.7 632.6 780.9 633.6 779.1C634.6 777.3 635.6 775.6 636.6 773.8C637.6 772.0 638.7 770.3 639.7 768.6C640.8 766.8 641.9 765.1 643.0 763.5C644.2 761.8 645.3 760.1 646.5 758.5C647.7 756.9 648.9 755.3 650.1 753.7C651.4 752.1 652.6 750.5 653.9 749.0C655.2 747.5 656.6 746.0 657.9 744.5C659.3 743.1 660.7 741.6 662.1 740.2C663.5 738.8 664.9 737.5 666.4 736.2C667.9 734.8 669.4 733.5 671.0 732.3C672.5 731.0 674.1 729.8 675.7 728.6C677.3 727.4 678.9 726.3 680.6 725.2C682.2 724.1 683.9 723.0 685.6 721.9C687.3 720.9 689.1 719.9 690.8 718.9C692.6 717.9 694.4 717.0 696.2 716.1C698.0 715.2 699.8 714.3 701.7 713.4C703.5 712.6 705.4 711.8 707.2 711.0C709.1 710.2 711.0 709.4 712.9 708.7C714.8 708.0 716.8 707.3 718.7 706.6C720.6 705.9 722.6 705.3 724.6 704.7C726.5 704.1 728.5 703.5 730.5 702.9C732.5 702.4 734.5 701.8 736.4 701.3C738.4 700.8 740.4 700.3 742.5 699.9C744.5 699.4 746.5 699.0 748.5 698.6C750.5 698.2 752.5 697.8 754.6 697.4C756.6 697.1 758.6 696.7 760.6 696.4C762.6 696.1 764.7 695.8 766.7 695.5C768.7 695.2 770.7 695.0 772.7 694.8C774.8 694.5 776.8 694.3 778.8 694.1C780.8 693.9 782.8 693.7 784.9 693.6C786.9 693.4 788.9 693.3 790.9 693.2C792.9 693.0 794.9 692.9 797.0 692.8C799.0 692.7 801.0 692.6 803.0 692.6C805.0 692.5 807.0 692.4 809.1 692.4C811.1 692.3 814.1 692.3 815.1 692.3" fill="none" stroke="#000" stroke-width="3.4" stroke-linejoin="round" stroke-linecap="round"/>
<line x1="360.0" y1="692.3" x2="993.0" y2="692.3" stroke="#000" stroke-width="3.1"/>
<line x1="105.5" y1="1210.4" x2="284.0" y2="1210.4" stroke="#000" stroke-width="3.3"/>
<line x1="105.5" y1="1209.8" x2="994.3" y2="1209.8" stroke="#000" stroke-width="2.6"/>
<path d="M105.5 1210.8 V665.7 H993.0 V1210.8" fill="none" stroke="#000" stroke-width="2.7" stroke-linejoin="round"/>
<path d="M98.2 1210.4 H112.7M105.5 1200.0 H111.7M105.5 1189.7 H111.7M105.5 1179.3 H111.7M105.5 1169.0 H111.7M98.2 1158.6 H112.7M105.5 1148.2 H111.7M105.5 1137.9 H111.7M105.5 1127.5 H111.7M105.5 1117.1 H111.7M98.2 1106.8 H112.7M105.5 1096.4 H111.7M105.5 1086.1 H111.7M105.5 1075.7 H111.7M105.5 1065.3 H111.7M98.2 1055.0 H112.7M105.5 1044.6 H111.7M105.5 1034.2 H111.7M105.5 1023.9 H111.7M105.5 1013.5 H111.7M98.2 1003.2 H112.7M105.5 992.8 H111.7M105.5 982.4 H111.7M105.5 972.1 H111.7M105.5 961.7 H111.7M98.2 951.4 H112.7M105.5 941.0 H111.7M105.5 930.6 H111.7M105.5 920.3 H111.7M105.5 909.9 H111.7M98.2 899.5 H112.7M105.5 889.2 H111.7M105.5 878.8 H111.7M105.5 868.5 H111.7M105.5 858.1 H111.7M98.2 847.7 H112.7M105.5 837.4 H111.7M105.5 827.0 H111.7M105.5 816.6 H111.7M105.5 806.3 H111.7M98.2 795.9 H112.7M105.5 785.6 H111.7M105.5 775.2 H111.7M105.5 764.8 H111.7M105.5 754.5 H111.7M98.2 744.1 H112.7M105.5 733.7 H111.7M105.5 723.4 H111.7M105.5 713.0 H111.7M105.5 702.7 H111.7M98.2 692.3 H112.7M105.5 681.9 H111.7M105.5 671.6 H111.7M105.6 1203.8 V1217.0M116.7 1204.8 V1209.8M127.8 1204.8 V1209.8M138.9 1204.8 V1209.8M149.9 1204.8 V1209.8M161.0 1204.8 V1209.8M172.1 1204.8 V1209.8M183.2 1204.8 V1209.8M194.3 1204.8 V1209.8M205.4 1204.8 V1209.8M216.4 1203.8 V1217.0M227.5 1204.8 V1209.8M238.6 1204.8 V1209.8M249.7 1204.8 V1209.8M260.8 1204.8 V1209.8M271.9 1204.8 V1209.8M283.0 1204.8 V1209.8M294.0 1204.8 V1209.8M305.1 1204.8 V1209.8M316.2 1204.8 V1209.8M327.3 1203.8 V1217.0M338.4 1204.8 V1209.8M349.5 1204.8 V1209.8M360.6 1204.8 V1209.8M371.6 1204.8 V1209.8M382.7 1204.8 V1209.8M393.8 1204.8 V1209.8M404.9 1204.8 V1209.8M416.0 1204.8 V1209.8M427.1 1204.8 V1209.8M438.1 1203.8 V1217.0M449.2 1204.8 V1209.8M460.3 1204.8 V1209.8M471.4 1204.8 V1209.8M482.5 1204.8 V1209.8M493.6 1204.8 V1209.8M504.7 1204.8 V1209.8M515.7 1204.8 V1209.8M526.8 1204.8 V1209.8M537.9 1204.8 V1209.8M549.0 1203.8 V1217.0M560.1 1204.8 V1209.8M571.2 1204.8 V1209.8M582.3 1204.8 V1209.8M593.3 1204.8 V1209.8M604.4 1204.8 V1209.8M615.5 1204.8 V1209.8M626.6 1204.8 V1209.8M637.7 1204.8 V1209.8M648.8 1204.8 V1209.8M659.9 1203.8 V1217.0M670.9 1204.8 V1209.8M682.0 1204.8 V1209.8M693.1 1204.8 V1209.8M704.2 1204.8 V1209.8M715.3 1204.8 V1209.8M726.4 1204.8 V1209.8M737.4 1204.8 V1209.8M748.5 1204.8 V1209.8M759.6 1204.8 V1209.8M770.7 1203.8 V1217.0M781.8 1204.8 V1209.8M792.9 1204.8 V1209.8M804.0 1204.8 V1209.8M815.0 1204.8 V1209.8M826.1 1204.8 V1209.8M837.2 1204.8 V1209.8M848.3 1204.8 V1209.8M859.4 1204.8 V1209.8M870.5 1204.8 V1209.8M881.5 1203.8 V1217.0M892.6 1204.8 V1209.8M903.7 1204.8 V1209.8M914.8 1204.8 V1209.8M925.9 1204.8 V1209.8M937.0 1204.8 V1209.8M948.1 1204.8 V1209.8M959.1 1204.8 V1209.8M970.2 1204.8 V1209.8M981.3 1204.8 V1209.8M992.4 1203.8 V1217.0" fill="none" stroke="#000" stroke-width="1.75"/>
<text transform="translate(87.2 1220.8)" text-anchor="end" class="tk">0</text>
<text transform="translate(87.2 1168.8)" text-anchor="end" class="tk">10</text>
<text transform="translate(87.2 1116.9)" text-anchor="end" class="tk">20</text>
<text transform="translate(87.2 1064.9)" text-anchor="end" class="tk">30</text>
<text transform="translate(87.2 1012.9)" text-anchor="end" class="tk">40</text>
<text transform="translate(87.2 960.9)" text-anchor="end" class="tk">50</text>
<text transform="translate(87.2 909.0)" text-anchor="end" class="tk">60</text>
<text transform="translate(87.2 857.0)" text-anchor="end" class="tk">70</text>
<text transform="translate(87.2 805.0)" text-anchor="end" class="tk">80</text>
<text transform="translate(87.2 753.1)" text-anchor="end" class="tk">90</text>
<text transform="translate(87.2 701.1)" text-anchor="end" class="tk">100</text>
<text transform="translate(106.0 1248.1)" text-anchor="middle" class="tk">60</text>
<text transform="translate(216.8 1248.1)" text-anchor="middle" class="tk">70</text>
<text transform="translate(327.7 1248.1)" text-anchor="middle" class="tk">80</text>
<text transform="translate(438.5 1248.1)" text-anchor="middle" class="tk">90</text>
<text transform="translate(549.4 1248.1)" text-anchor="middle" class="tk">100</text>
<text transform="translate(660.2 1248.1)" text-anchor="middle" class="tk">110</text>
<text transform="translate(771.1 1248.1)" text-anchor="middle" class="tk">120</text>
<text transform="translate(881.9 1248.1)" text-anchor="middle" class="tk">130</text>
<text transform="translate(992.8 1248.1)" text-anchor="middle" class="tk">140</text>
<text transform="translate(136.1 734.4) scale(1 0.980)" class="pl">(b)</text>
<text transform="translate(256.3 690.2) scale(1 1.040)" class="lg">01ºC/min</text>
<text transform="translate(397.7 690.2) scale(1 1.040)" class="lg">02ºC/min</text>
<text transform="translate(527.3 690.2) scale(1 1.040)" class="lg">05ºC/min</text>
<text transform="translate(662.9 690.2) scale(1 1.040)" class="lg">10ºC/min</text>
<text transform="translate(806.5 690.2) scale(1 1.040)" class="lg">20ºC/min</text>
<text transform="translate(556.2 1286.1) scale(1 1.060)" text-anchor="middle" class="ax2">Temperature (ºC)</text>
<text transform="translate(36.8 923.0) rotate(-90) scale(1 1.060)" text-anchor="middle" class="ax2">Conversion (%)</text>
</g>
</svg>
</body></html>
